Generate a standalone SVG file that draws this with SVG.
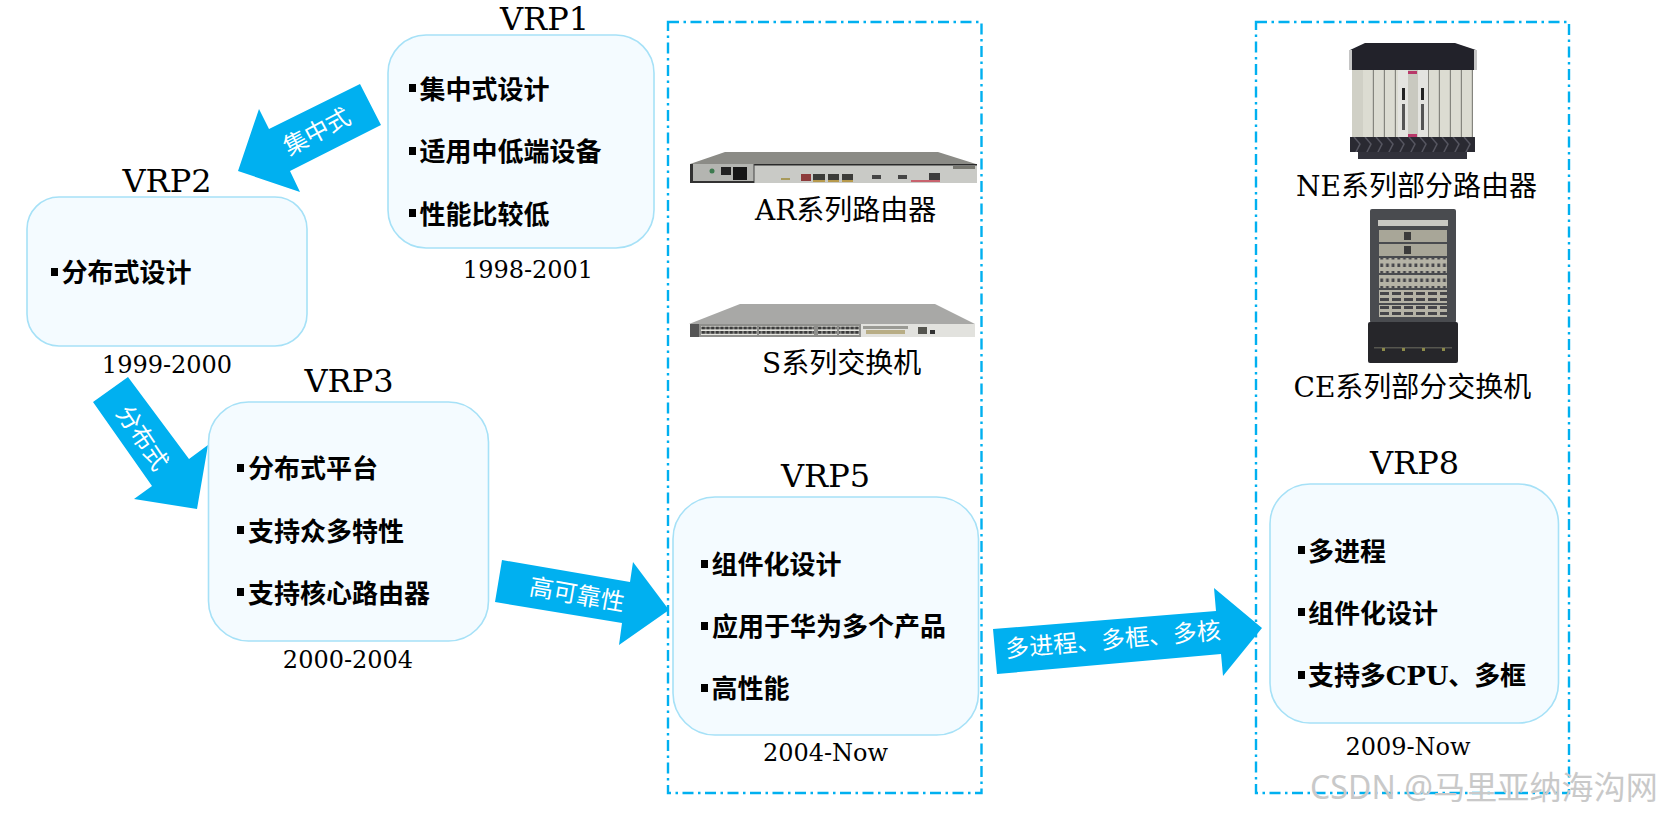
<svg xmlns="http://www.w3.org/2000/svg" width="1664" height="819" viewBox="0 0 1664 819">
<style>
text{font-family:"DejaVu Serif","Noto Sans CJK SC",serif;fill:#000}
.title{font-size:32px;text-anchor:middle}
.year{font-size:24px;text-anchor:middle}
.item{font-size:26px;font-weight:700}
.dev{font-size:28px}
.lab{font-family:"Noto Sans CJK SC",sans-serif;font-size:24px;fill:#fff;text-anchor:middle}
.box{fill:#f4fbff;stroke:#a6e1f7;stroke-width:1.6}
.frame{fill:none;stroke:#00b0f0;stroke-width:2.4;stroke-dasharray:11 4.5 2.5 4.5}
.arrow{fill:#00b0f0}
.wm{font-family:"Noto Sans","Noto Sans CJK SC",sans-serif;font-size:32px;fill:#c9c9c9}
</style>
<defs>
<filter id="soft" x="-5%" y="-5%" width="110%" height="110%"><feGaussianBlur stdDeviation="0.45"/></filter>
<pattern id="swp" width="4.65" height="9" patternUnits="userSpaceOnUse" x="701" y="326"><rect width="4.65" height="9" fill="#e6e6e0"/><rect x=".4" y=".6" width="3.9" height="2.800" fill="#3a3a3a"/><rect x=".4" y="5" width="3.9" height="2.800" fill="#3a3a3a"/></pattern>
<pattern id="cep" width="5.7" height="15" patternUnits="userSpaceOnUse" x="1379" y="262"><rect width="5.7" height="15" fill="#b5b3a6"/><rect x="1.3" y="1.500" width="2.800" height="3.500" fill="#45454a"/><rect x="1.3" y="9" width="2.800" height="3.500" fill="#45454a"/></pattern>
<pattern id="ceq" width="12" height="14" patternUnits="userSpaceOnUse" x="1379" y="290"><rect width="12" height="14" fill="#b5b3a6"/><rect x="1" y="2" width="9" height="3" fill="#45454a"/><rect x="1" y="8" width="9" height="3" fill="#45454a"/></pattern>
<pattern id="nec" width="11" height="10" patternUnits="userSpaceOnUse" x="1363" y="70"><rect width="11" height="10" fill="#dcdcd2"/><rect x="9.8" width="1.2" height="10" fill="#85857e"/></pattern>
<pattern id="neb" width="11" height="22" patternUnits="userSpaceOnUse" x="1352" y="137"><rect width="11" height="22" fill="#2a2a33"/><path d="M2 0L8 7L3 17" stroke="#55555f" stroke-width="1.5" fill="none"/></pattern>
</defs>

<g id="frames">
<rect class="frame" x="668" y="22" width="313.5" height="771"/>
<rect class="frame" x="1256" y="22" width="313" height="771"/>
</g>

<g id="connectors">
<g id="arrow-centralized">
<polygon class="arrow" points="360,84 381,125 290,171 300,192 238,171 259,109 269,129"/>
<text class="lab" transform="translate(317,132) rotate(-28)" y="8">集中式</text>
</g>
<g id="arrow-distributed">
<polygon class="arrow" points="128,377 93,402 152,486 134,499 197,509 208,445 189,459"/>
<text class="lab" transform="translate(142,438) rotate(56)" y="8">分布式</text>
</g>
<g id="arrow-reliability">
<polygon class="arrow" points="502,560 495,602 622,623 619,645 669,610 633,562 630,582"/>
<text class="lab" transform="translate(577,595) rotate(10)" y="8">高可靠性</text>
</g>
<g id="arrow-multi">
<polygon class="arrow" points="993,629 997,674 1221,654 1223,676 1262,628 1214,588 1216,611"/>
<text class="lab" transform="translate(1113,640) rotate(-5)" y="8">多进程、多框、多核</text>
</g>
</g>

<g id="vrp1">
<text class="title" x="544.500" y="30">VRP1</text>
<rect class="box" x="388" y="35" width="266" height="213" rx="38"/>
<rect x="409" y="84" width="7" height="8"/><text class="item" x="419.500" y="99">集中式设计</text>
<rect x="409" y="147" width="7" height="8"/><text class="item" x="419.500" y="161">适用中低端设备</text>
<rect x="409" y="209" width="7" height="8"/><text class="item" x="419.500" y="224">性能比较低</text>
<text class="year" x="528" y="278">1998-2001</text>
</g>

<g id="vrp2">
<text class="title" x="167" y="192">VRP2</text>
<rect class="box" x="27" y="197" width="280" height="149" rx="32"/>
<rect x="51" y="268" width="7" height="8"/><text class="item" x="61.500" y="282">分布式设计</text>
<text class="year" x="167" y="373">1999-2000</text>
</g>

<g id="vrp3">
<text class="title" x="349" y="392">VRP3</text>
<rect class="box" x="208.500" y="402" width="280" height="239" rx="40"/>
<rect x="237" y="464" width="7" height="8"/><text class="item" x="248" y="478">分布式平台</text>
<rect x="237" y="526" width="7" height="8"/><text class="item" x="248" y="541">支持众多特性</text>
<rect x="237" y="588" width="7" height="8"/><text class="item" x="248" y="603">支持核心路由器</text>
<text class="year" x="348" y="668">2000-2004</text>
</g>

<g id="vrp5">
<text class="title" x="825.500" y="487">VRP5</text>
<rect class="box" x="673" y="497" width="305.500" height="238" rx="42"/>
<rect x="701" y="560" width="7" height="8"/><text class="item" x="711.500" y="574">组件化设计</text>
<rect x="701" y="622" width="7" height="8"/><text class="item" x="712" y="636">应用于华为多个产品</text>
<rect x="701" y="684" width="7" height="8"/><text class="item" x="711.500" y="698">高性能</text>
<text class="year" x="825.500" y="761">2004-Now</text>
</g>

<g id="vrp8">
<text class="title" x="1414.500" y="474">VRP8</text>
<rect class="box" x="1270" y="484" width="288.500" height="239" rx="40"/>
<rect x="1298" y="546" width="7" height="8"/><text class="item" x="1308" y="561">多进程</text>
<rect x="1298" y="608" width="7" height="8"/><text class="item" x="1308" y="623">组件化设计</text>
<rect x="1298" y="671" width="7" height="8"/><text class="item" x="1308" y="685" style="letter-spacing:-.1px">支持多CPU、多框</text>
<text class="year" x="1408" y="755">2009-Now</text>
</g>

<g id="device-ar">
<g filter="url(#soft)">
<polygon points="690,164 725,152 938,152 976,164" fill="#8b8b86"/>
<rect x="690" y="164" width="287" height="19" fill="#c9cac6"/>
<rect x="690" y="164" width="287" height="1.500" fill="#2b2b2b"/>
<rect x="690" y="164" width="64" height="19" fill="#b4b5b1"/>
<rect x="690" y="164" width="3" height="19" fill="#333"/>
<rect x="753.500" y="164" width="1" height="19" fill="#444"/>
<rect x="690" y="181" width="64" height="2" fill="#333"/>
<rect x="721" y="167" width="10" height="8" fill="#222"/>
<rect x="733" y="167" width="14" height="13" fill="#151515"/>
<circle cx="712" cy="171" r="2.500" fill="#3c7a50"/>
<rect x="801" y="174" width="10" height="7" fill="#8d3a3a"/>
<rect x="813" y="174" width="12" height="7" fill="#3a3a38"/><rect x="813" y="180" width="12" height="2" fill="#b79a4e"/>
<rect x="828" y="174" width="11" height="7" fill="#3a3a38"/><rect x="828" y="180" width="11" height="2" fill="#b79a4e"/>
<rect x="842" y="174" width="11" height="7" fill="#3a3a38"/><rect x="842" y="180" width="11" height="2" fill="#b79a4e"/>
<rect x="872" y="175" width="9" height="4" fill="#444"/>
<rect x="898" y="175" width="9" height="4" fill="#444"/>
<rect x="781" y="178" width="9" height="2" fill="#a89a5a"/>
<rect x="929" y="173" width="11" height="7" fill="#3d3d3d"/>
<rect x="911" y="180" width="29" height="2" fill="#c8646e"/>
<rect x="953" y="166" width="22" height="3" fill="#77776f"/>
</g>
<text class="dev" x="755" y="220">AR系列路由器</text>
</g>

<g id="device-s">
<g filter="url(#soft)">
<polygon points="689,324 740,304 935,304 975,324" fill="#a8a8a6"/>
<rect x="690" y="324" width="285" height="13" fill="#e2e2de"/>
<rect x="690" y="324" width="9" height="13" fill="#555"/>
<rect x="699" y="324" width="162" height="13" fill="#8f8f8c"/>
<rect x="701" y="326" width="56" height="9" fill="url(#swp)"/>
<rect x="759" y="326" width="55" height="9" fill="url(#swp)"/>
<rect x="818" y="326" width="19" height="9" fill="url(#swp)"/>
<rect x="839" y="326" width="20" height="9" fill="url(#swp)"/>
<rect x="863" y="326" width="45" height="3" fill="#9a9a94"/>
<rect x="866" y="330" width="39" height="4" fill="#b8ad85"/>
<rect x="918" y="327" width="9" height="7" fill="#55554f"/>
<rect x="930" y="330" width="5" height="4" fill="#333"/>
</g>
<text class="dev" x="762" y="373">S系列交换机</text>
</g>

<g id="device-ne">
<g filter="url(#soft)">
<polygon points="1350,50 1365,43 1455,43 1476,50 1476,70 1350,70" fill="#20222a"/>
<rect x="1349" y="50" width="3" height="20" fill="#c5c5c5"/>
<rect x="1474" y="50" width="3" height="20" fill="#c5c5c5"/>
<rect x="1352" y="70" width="121" height="67" fill="url(#nec)"/>
<rect x="1352" y="70" width="11" height="67" fill="#d0d0c6"/>
<rect x="1398" y="70" width="10" height="67" fill="#e4e4e0"/>
<rect x="1418" y="70" width="10" height="67" fill="#e4e4e0"/>
<rect x="1408" y="70" width="10" height="67" fill="#c9c9c0"/>
<rect x="1402" y="88" width="3" height="12" fill="#222"/><rect x="1402" y="104" width="3" height="26" fill="#555"/>
<rect x="1421" y="88" width="3" height="12" fill="#222"/><rect x="1421" y="104" width="3" height="26" fill="#555"/>
<rect x="1408" y="71" width="9" height="3" fill="#b8386a"/><rect x="1408" y="134" width="9" height="3" fill="#b8386a"/>
<rect x="1350" y="137" width="125" height="15" fill="url(#neb)"/>
<rect x="1358" y="152" width="109" height="7" fill="#30303a"/>
</g>
<text class="dev" x="1296" y="196">NE系列部分路由器</text>
</g>

<g id="device-ce">
<g filter="url(#soft)">
<rect x="1370" y="209" width="86" height="114" rx="2" fill="#4a4b50"/>
<rect x="1378" y="220" width="70" height="6" fill="#c8c8c2"/>
<rect x="1379" y="230" width="68" height="12" fill="#a8a698"/>
<rect x="1379" y="244" width="68" height="12" fill="#a8a698"/>
<rect x="1404" y="232" width="7" height="8" fill="#3a3a3a"/>
<rect x="1404" y="246" width="7" height="8" fill="#3a3a3a"/>
<rect x="1379" y="258" width="68" height="15" fill="url(#cep)"/>
<rect x="1379" y="275" width="68" height="13" fill="url(#cep)"/>
<rect x="1379" y="290" width="68" height="13" fill="url(#ceq)"/>
<rect x="1379" y="305" width="68" height="12" fill="url(#ceq)"/>
<rect x="1368" y="322" width="90" height="41" rx="2" fill="#25262a"/>
<rect x="1374" y="347" width="78" height="1.500" fill="#56574f"/>
<rect x="1382" y="348" width="3" height="3" fill="#8c8a4a"/><rect x="1402" y="348" width="3" height="3" fill="#8c8a4a"/><rect x="1422" y="348" width="3" height="3" fill="#8c8a4a"/><rect x="1442" y="348" width="3" height="3" fill="#8c8a4a"/>
</g>
<text class="dev" x="1293.500" y="397">CE系列部分交换机</text>
</g>

<text class="wm" x="1310" y="799" style="letter-spacing:.1px">CSDN @马里亚纳海沟网</text>
</svg>
